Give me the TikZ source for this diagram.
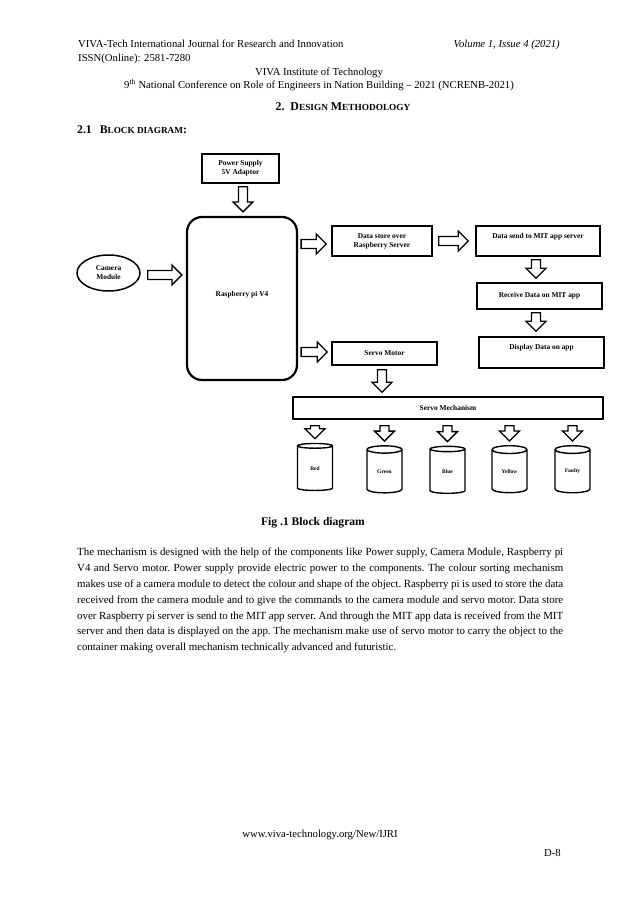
\documentclass[tikz,border=0pt]{standalone}
\usepackage{fontspec}
\setmainfont{Liberation Serif}
\usepackage{tikz}
\usetikzlibrary{shapes.geometric,calc}

\begin{document}
\begin{tikzpicture}[x=1pt,y=-1pt,
  page/.style={inner sep=0pt,font=\fontsize{10.7}{14}\selectfont},
  blk/.style ={rectangle,draw,line width=1.5pt,inner sep=1pt,align=center,
               font=\bfseries\fontsize{7.4}{9}\selectfont},
  bin/.style ={cylinder,shape border rotate=90,aspect=0.5,draw,line width=1.4pt,
               minimum width=35pt,minimum height=47pt,inner sep=0pt,
               font=\bfseries\fontsize{5.5}{6}\selectfont},
  rarr/.style={draw,line width=1.3pt,fill=white,to path={
      let \p1=(\tikztostart),\p2=(\tikztotarget) in
      (\x1,\y1+4.5pt) -- (\x2-10pt,\y1+4.5pt) -- (\x2-10pt,\y1+10pt) -- (\x2,\y1)
      -- (\x2-10pt,\y1-10pt) -- (\x2-10pt,\y1-4.5pt) -- (\x1,\y1-4.5pt) -- cycle}},
  darr/.style={draw,line width=1.3pt,fill=white,to path={
      let \p1=(\tikztostart),\p2=(\tikztotarget) in
      (\x1-4.5pt,\y1) -- (\x1-4.5pt,\y2+10pt) -- (\x1-10pt,\y2+10pt) -- (\x1,\y2)
      -- (\x1+10pt,\y2+10pt) -- (\x1+4.5pt,\y2+10pt) -- (\x1+4.5pt,\y1) -- cycle}}
]
\fill[white] (0,0) rectangle (638,902);
\useasboundingbox (0,0) rectangle (638,902);

% page head
\node[page,anchor=base west] (jname) at (78,47.5)
  {VIVA-Tech International Journal for Research and Innovation};
\node[page,anchor=base east] (vol) at (560,47.5) {\itshape Volume 1, Issue 4 (2021)};
\node[page,anchor=base west] (issn) at (78,61.5) {ISSN(Online): 2581-7280};
\node[page,anchor=base] (inst) at (319,75.5) {VIVA Institute of Technology};
\node[page,anchor=base] (conf) at (319,88.5)
  {9\textsuperscript{th} National Conference on Role of Engineers in Nation Building -- 2021 (NCRENB-2021)};

\node[inner sep=0pt,anchor=base,font=\bfseries\fontsize{11.9}{14}\selectfont] (sec) at (343,110)
  {2.\ \ D{\fontsize{9.3}{10}\selectfont ESIGN} M{\fontsize{9.3}{10}\selectfont ETHODOLOGY}};
\node[inner sep=0pt,anchor=base west,font=\bfseries\fontsize{11.7}{14}\selectfont] (subsec) at (77,133)
  {2.1\hspace{8pt}B{\fontsize{9.2}{10}\selectfont LOCK DIAGRAM}:};

% block diagram
\node[blk,minimum width=77pt,minimum height=29pt] (psu) at (240.5,168.5) {Power Supply\\5V Adaptor};
\node[blk,rounded corners=15pt,line width=2.2pt,minimum width=110pt,minimum height=163pt,
      text depth=9pt] (rpi) at (242,298.5) {Raspberry pi V4};
\node[blk,ellipse,minimum width=63pt,minimum height=36pt] (cam) at (108.5,273) {Camera\\Module};

\node[blk,minimum width=100pt,minimum height=30pt] (ds)   at (382,241)   {Data store over\\Raspberry Server};
\node[blk,minimum width=124pt,minimum height=30pt,text depth=11pt] (mit)  at (538,241)   {Data send to MIT app server};
\node[blk,minimum width=125pt,minimum height=26pt] (rcv)  at (539.5,296) {Receive Data on MIT app};
\node[blk,minimum width=125pt,minimum height=31pt,text depth=11pt] (disp) at (541.5,352.5) {Display Data on app};
\node[blk,minimum width=105pt,minimum height=23pt] (srv)  at (384.5,353.5) {Servo Motor};
\node[blk,minimum width=310pt,minimum height=22pt] (mech) at (448,408) {Servo Mechanism};

\foreach \n/\x/\y/\t in {red/315/468.5/Red, green/384.5/471.5/Green, blue/447.5/471.5/Blue,
                         yellow/509.5/471.5/Yellow, faulty/572.5/471.5/Faulty}
  \node[bin] (\n) at (\x,\y) {\t};

\draw[darr] ([xshift=2.5pt,yshift=-3pt]psu.south) to ([yshift=4pt]rpi.north);
\draw[rarr] ([xshift=7pt,yshift=-2pt]cam.east) to ([xshift=-4pt]rpi.west);
\draw[rarr] ([xshift=3pt,yshift=-3pt]rpi.east |- ds.west) to ([xshift=-5pt]ds.west);
\draw[rarr] ([xshift=6pt]ds.east) to ([xshift=-7pt]mit.west);
\draw[darr] ([xshift=-2pt,yshift=-3pt]mit.south) to ([yshift=4pt]rcv.north);
\draw[darr] ([xshift=-3.5pt,yshift=-3pt]rcv.south) to ([yshift=5pt]disp.north);
\draw[rarr] ([xshift=3pt,yshift=1.5pt]rpi.east |- srv.west) to ([xshift=-4pt]srv.west);
\draw[darr] ([xshift=-2.5pt,yshift=-4pt]srv.south) to ([yshift=4pt]mech.north);
\foreach \b in {red,green,blue,yellow,faulty}
  \draw[darr] ([yshift=-6pt]mech.south -| \b.north) to ([yshift=4pt]\b.north);

% caption and text
\node[inner sep=0pt,anchor=base,font=\bfseries\fontsize{11.6}{14}\selectfont] (cap) at (313,525)
  {Fig .1 Block diagram};
\node[inner sep=0pt,anchor=north west,text width=486pt,align=justify,
      font=\fontsize{10.9}{15.8}\selectfont] (body) at (77,548)
  {\frenchspacing\hyphenpenalty=10000
   The mechanism is designed with the help of the components like Power supply, Camera Module, Raspberry pi\linebreak
   V4 and Servo motor. Power supply provide electric power to the components. The colour sorting mechanism\linebreak
   makes use of a camera module to detect the colour and shape of the object. Raspberry pi is used to store the data\linebreak
   received from the camera module and to give the commands to the camera module and servo motor. Data store\linebreak
   over Raspberry pi server is send to the MIT app server. And through the MIT app data is received from the MIT\linebreak
   server and then data is displayed on the app. The mechanism make use of servo motor to carry the object to the\linebreak
   container making overall mechanism technically advanced and futuristic.};

% page foot
\node[page,anchor=base] (url) at (320,837.5) {www.viva-technology.org/New/IJRI};
\node[page,anchor=base east] (pg) at (561,856.5) {D-8};
\end{tikzpicture}
\end{document}
